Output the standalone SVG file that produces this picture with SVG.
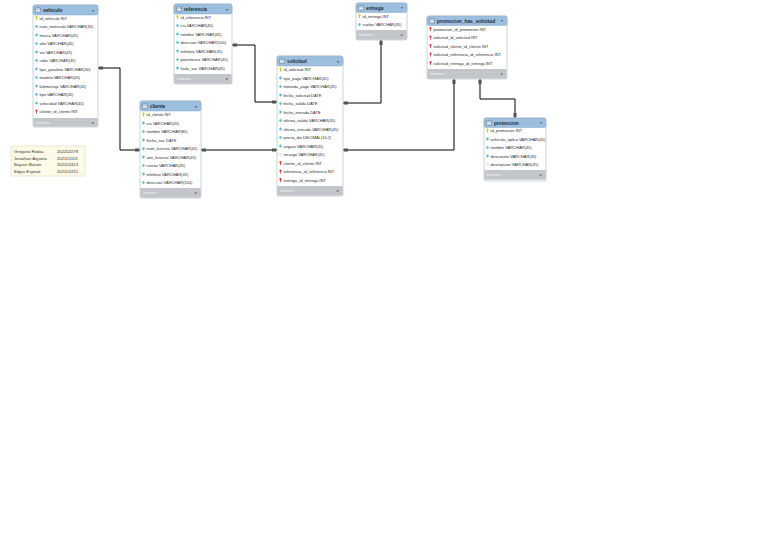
<svg xmlns="http://www.w3.org/2000/svg" xmlns:xlink="http://www.w3.org/1999/xlink" width="768" height="538" viewBox="0 0 768 538">
<style>
.bg{fill:#ffffff}
.box{fill:#ffffff;stroke:#a9b4bf;stroke-width:0.6}
.hdr{fill:#9cbfdf;stroke:#8aa7c4;stroke-width:0.5}
.ftr{fill:#c2c6ca}
.t{font-family:"Liberation Sans",Arial,sans-serif;font-size:4px;fill:#2a2a2a}
.ti{font-family:"Liberation Sans",Arial,sans-serif;font-size:4.8px;font-weight:bold;fill:#1d2a38}
.ix{font-family:"Liberation Sans",Arial,sans-serif;font-size:4px;fill:#f4f4f4}
.ar{font-family:"DejaVu Sans",sans-serif;font-size:4px;fill:#555}
.con{fill:none;stroke:#000;stroke-width:1}
.nm{font-family:"Liberation Sans",Arial,sans-serif;font-size:4.2px;fill:#333}
</style>
<defs>
<g id="tic"><rect x="-2.6" y="-2.2" width="5.2" height="4.4" rx="0.6" fill="#e8eef6" stroke="#3d5f87" stroke-width="0.5"/><line x1="-2.6" y1="-0.8" x2="2.6" y2="-0.8" stroke="#3d5f87" stroke-width="0.4"/></g>
<g id="pk"><circle cx="0" cy="-0.8" r="1.1" fill="#e8c020"/><rect x="-0.4" y="-0.2" width="0.8" height="2.2" fill="#d0a010"/></g>
<g id="fk"><circle cx="0" cy="-0.8" r="1.1" fill="#d83a2a"/><rect x="-0.4" y="-0.2" width="0.8" height="2.2" fill="#c02a1a"/></g>
<polygon id="col" points="0,-1.4 1.4,0 0,1.4 -1.4,0" fill="#4fc6d8" stroke="#2a9fb2" stroke-width="0.3"/>
<polygon id="ncol" points="0,-1.4 1.4,0 0,1.4 -1.4,0" fill="#ffffff" stroke="#6aa8b8" stroke-width="0.4"/>
<marker id="one" markerUnits="userSpaceOnUse" viewBox="0 0 6 6" markerWidth="6" markerHeight="6" refX="5" refY="3" orient="auto-start-reverse"><path d="M1,1 V5 M3,1 V5" stroke="#000" stroke-width="0.7" fill="none"/></marker>
</defs>
<rect class="bg" x="0" y="0" width="768" height="538"/>

<g id="connectors">
<path class="con" d="M98,68 H120 V150 H140" marker-start="url(#one)" marker-end="url(#one)"/>
<path class="con" d="M232,45 H255 V102 H277" marker-start="url(#one)" marker-end="url(#one)"/>
<path class="con" d="M201,150 H277" marker-start="url(#one)" marker-end="url(#one)"/>
<path class="con" d="M381,40 V103 H343" marker-start="url(#one)" marker-end="url(#one)"/>
<path class="con" d="M343,150 H454 V79" marker-start="url(#one)" marker-end="url(#one)"/>
<path class="con" d="M480,79 V99 H515 V118" marker-start="url(#one)" marker-end="url(#one)"/>
</g>

<g id="vehiculo" transform="translate(33,5)">
<rect class="box" x="0" y="0" width="65" height="122" rx="2"/>
<rect class="hdr" x="0" y="0" width="65" height="10" rx="2"/>
<use href="#tic" x="5" y="5"/><text class="ti" x="10" y="6.8">vehiculo</text><text class="ar" x="59" y="6.6">▾</text>
<use href="#pk" x="3.5" y="13"/><text class="t" x="6.5" y="14.5">id_vehiculo INT</text>
<use href="#col" x="3.5" y="21.5"/><text class="t" x="6.5" y="23">num_matricula VARCHAR(45)</text>
<use href="#col" x="3.5" y="30"/><text class="t" x="6.5" y="31.5">marca VARCHAR(45)</text>
<use href="#col" x="3.5" y="38.5"/><text class="t" x="6.5" y="40">año VARCHAR(45)</text>
<use href="#col" x="3.5" y="47"/><text class="t" x="6.5" y="48.5">vin VARCHAR(45)</text>
<use href="#col" x="3.5" y="55.5"/><text class="t" x="6.5" y="57">color VARCHAR(45)</text>
<use href="#col" x="3.5" y="64"/><text class="t" x="6.5" y="65.5">tipo_gasolina VARCHAR(30)</text>
<use href="#col" x="3.5" y="72.5"/><text class="t" x="6.5" y="74">modelo VARCHAR(45)</text>
<use href="#col" x="3.5" y="81"/><text class="t" x="6.5" y="82.5">kilometraje VARCHAR(45)</text>
<use href="#col" x="3.5" y="89.5"/><text class="t" x="6.5" y="91">tipo VARCHAR(45)</text>
<use href="#col" x="3.5" y="98"/><text class="t" x="6.5" y="99.5">velocidad VARCHAR(45)</text>
<use href="#fk" x="3.5" y="106.5"/><text class="t" x="6.5" y="108">cliente_id_cliente INT</text>
<rect class="ftr" x="0.3" y="113" width="64.4" height="8.7"/>
<text class="ix" x="3" y="118.5">Indexes</text><text class="ar" x="59" y="118.8">▸</text>
</g>

<g id="referencia" transform="translate(174,4)">
<rect class="box" x="0" y="0" width="58" height="80" rx="2"/>
<rect class="hdr" x="0" y="0" width="58" height="10" rx="2"/>
<use href="#tic" x="5" y="5"/><text class="ti" x="10" y="6.8">referencia</text><text class="ar" x="52" y="6.6">▾</text>
<use href="#pk" x="3.5" y="13"/><text class="t" x="6.5" y="14.5">id_referencia INT</text>
<use href="#col" x="3.5" y="21.5"/><text class="t" x="6.5" y="23">ciu VARCHAR(45)</text>
<use href="#col" x="3.5" y="30"/><text class="t" x="6.5" y="31.5">nombre VARCHAR(45)</text>
<use href="#col" x="3.5" y="38.5"/><text class="t" x="6.5" y="40">direccion VARCHAR(100)</text>
<use href="#col" x="3.5" y="47"/><text class="t" x="6.5" y="48.5">telefono VARCHAR(45)</text>
<use href="#col" x="3.5" y="55.5"/><text class="t" x="6.5" y="57">parentesco VARCHAR(45)</text>
<use href="#col" x="3.5" y="64"/><text class="t" x="6.5" y="65.5">titulo_sac VARCHAR(45)</text>
<rect class="ftr" x="0.3" y="70" width="57.4" height="9.7"/>
<text class="ix" x="3" y="76">Indexes</text><text class="ar" x="52" y="76.3">▸</text>
</g>

<g id="cliente" transform="translate(140,101)">
<rect class="box" x="0" y="0" width="61" height="97" rx="2"/>
<rect class="hdr" x="0" y="0" width="61" height="10" rx="2"/>
<use href="#tic" x="5" y="5"/><text class="ti" x="10" y="6.8">cliente</text><text class="ar" x="55" y="6.6">▾</text>
<use href="#pk" x="3.5" y="13.5"/><text class="t" x="6.5" y="15">id_cliente INT</text>
<use href="#col" x="3.5" y="22"/><text class="t" x="6.5" y="23.5">ciu VARCHAR(45)</text>
<use href="#col" x="3.5" y="30.5"/><text class="t" x="6.5" y="32">nombre VARCHAR(80)</text>
<use href="#col" x="3.5" y="39"/><text class="t" x="6.5" y="40.5">fecha_nac DATE</text>
<use href="#col" x="3.5" y="47.5"/><text class="t" x="6.5" y="49">num_licencia VARCHAR(45)</text>
<use href="#col" x="3.5" y="56"/><text class="t" x="6.5" y="57.5">ven_licencia VARCHAR(45)</text>
<use href="#col" x="3.5" y="64.5"/><text class="t" x="6.5" y="66">correo VARCHAR(45)</text>
<use href="#col" x="3.5" y="73"/><text class="t" x="6.5" y="74.5">telefono VARCHAR(45)</text>
<use href="#col" x="3.5" y="81.5"/><text class="t" x="6.5" y="83">direccion VARCHAR(150)</text>
<rect class="ftr" x="0.3" y="87" width="60.4" height="9.7"/>
<text class="ix" x="3" y="93">Indexes</text><text class="ar" x="55" y="93.3">▸</text>
</g>

<g id="solicitud" transform="translate(277,56)">
<rect class="box" x="0" y="0" width="66" height="140" rx="2"/>
<rect class="hdr" x="0" y="0" width="66" height="10" rx="2"/>
<use href="#tic" x="5" y="5"/><text class="ti" x="10" y="6.8">solicitud</text><text class="ar" x="60" y="6.6">▾</text>
<use href="#pk" x="3.5" y="13.5"/><text class="t" x="6.5" y="15">id_solicitud INT</text>
<use href="#col" x="3.5" y="22"/><text class="t" x="6.5" y="23.5">tipo_pago VARCHAR(45)</text>
<use href="#col" x="3.5" y="30.5"/><text class="t" x="6.5" y="32">moneda_pago VARCHAR(45)</text>
<use href="#col" x="3.5" y="39"/><text class="t" x="6.5" y="40.5">fecha_solicitud DATE</text>
<use href="#col" x="3.5" y="47.5"/><text class="t" x="6.5" y="49">fecha_salida DATE</text>
<use href="#col" x="3.5" y="56"/><text class="t" x="6.5" y="57.5">fecha_entrada DATE</text>
<use href="#col" x="3.5" y="64.5"/><text class="t" x="6.5" y="66">oficina_salida VARCHAR(45)</text>
<use href="#col" x="3.5" y="73"/><text class="t" x="6.5" y="74.5">oficina_entrada VARCHAR(45)</text>
<use href="#col" x="3.5" y="81.5"/><text class="t" x="6.5" y="83">precio_dia DECIMAL(10,2)</text>
<use href="#col" x="3.5" y="90"/><text class="t" x="6.5" y="91.5">seguro VARCHAR(45)</text>
<use href="#ncol" x="3.5" y="98.5"/><text class="t" x="6.5" y="100">recargo VARCHAR(45)</text>
<use href="#fk" x="3.5" y="107"/><text class="t" x="6.5" y="108.5">cliente_id_cliente INT</text>
<use href="#fk" x="3.5" y="115.5"/><text class="t" x="6.5" y="117">referencia_id_referencia INT</text>
<use href="#fk" x="3.5" y="124"/><text class="t" x="6.5" y="125.5">entrega_id_entrega INT</text>
<rect class="ftr" x="0.3" y="130" width="65.4" height="9.7"/>
<text class="ix" x="3" y="136">Indexes</text><text class="ar" x="60" y="136.3">▸</text>
</g>

<g id="entrega" transform="translate(356,3)">
<rect class="box" x="0" y="0" width="51" height="37" rx="2"/>
<rect class="hdr" x="0" y="0" width="51" height="9.5" rx="2"/>
<use href="#tic" x="5" y="4.8"/><text class="ti" x="10" y="6.6">entrega</text><text class="ar" x="45" y="6.4">▾</text>
<use href="#pk" x="3.5" y="13"/><text class="t" x="6.5" y="14.5">id_entrega INT</text>
<use href="#col" x="3.5" y="21.5"/><text class="t" x="6.5" y="23">vuelos VARCHAR(45)</text>
<rect class="ftr" x="0.3" y="27" width="50.4" height="9.7"/>
<text class="ix" x="3" y="33">Indexes</text><text class="ar" x="45" y="33.3">▸</text>
</g>

<g id="promocion_has_solicitud" transform="translate(427,16)">
<rect class="box" x="0" y="0" width="80" height="63" rx="2"/>
<rect class="hdr" x="0" y="0" width="80" height="9.5" rx="2"/>
<use href="#tic" x="5" y="4.8"/><text class="ti" x="10" y="6.6">promocion_has_solicitud</text><text class="ar" x="74" y="6.4">▾</text>
<use href="#fk" x="3.5" y="13"/><text class="t" x="6.5" y="14.5">promocion_id_promocion INT</text>
<use href="#fk" x="3.5" y="21.5"/><text class="t" x="6.5" y="23">solicitud_id_solicitud INT</text>
<use href="#fk" x="3.5" y="30"/><text class="t" x="6.5" y="31.5">solicitud_cliente_id_cliente INT</text>
<use href="#fk" x="3.5" y="38.5"/><text class="t" x="6.5" y="40">solicitud_referencia_id_referencia INT</text>
<use href="#fk" x="3.5" y="47"/><text class="t" x="6.5" y="48.5">solicitud_entrega_id_entrega INT</text>
<rect class="ftr" x="0.3" y="53" width="79.4" height="9.7"/>
<text class="ix" x="3" y="59">Indexes</text><text class="ar" x="74" y="59.3">▸</text>
</g>

<g id="promocion" transform="translate(484,118)">
<rect class="box" x="0" y="0" width="62" height="63" rx="2"/>
<rect class="hdr" x="0" y="0" width="62" height="9.5" rx="2"/>
<use href="#tic" x="5" y="4.8"/><text class="ti" x="10" y="6.6">promocion</text><text class="ar" x="56" y="6.4">▾</text>
<use href="#pk" x="3.5" y="12.5"/><text class="t" x="6.5" y="14">id_promocion INT</text>
<use href="#col" x="3.5" y="21"/><text class="t" x="6.5" y="22.5">vehiculo_aplica VARCHAR(45)</text>
<use href="#col" x="3.5" y="29.5"/><text class="t" x="6.5" y="31">nombre VARCHAR(45)</text>
<use href="#col" x="3.5" y="38"/><text class="t" x="6.5" y="39.5">descuento VARCHAR(45)</text>
<use href="#ncol" x="3.5" y="46.5"/><text class="t" x="6.5" y="48">descripcion VARCHAR(45)</text>
<rect class="ftr" x="0.3" y="52" width="61.4" height="9.7"/>
<text class="ix" x="3" y="58">Indexes</text><text class="ar" x="56" y="58.3">▸</text>
</g>

<g id="autores" transform="translate(11,146)">
<rect x="0" y="0" width="74" height="30" fill="#fdfbe8" stroke="#d8d4b0" stroke-width="0.5"/>
<text class="nm" x="3" y="7">Gregorio Rodas</text><text class="nm" x="46" y="7">202202278</text>
<text class="nm" x="3" y="13.5">Jonathan Argueta</text><text class="nm" x="46" y="13.5">202101113</text>
<text class="nm" x="3" y="20">Bayron Matute</text><text class="nm" x="46" y="20">202202413</text>
<text class="nm" x="3" y="26.5">Edgar Espinal</text><text class="nm" x="46" y="26.5">202102221</text>
</g>
</svg>
